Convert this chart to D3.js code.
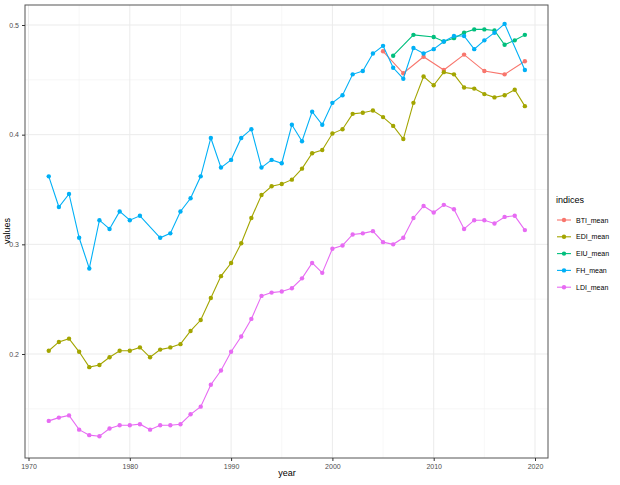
<!DOCTYPE html><html><head><script src="https://cdn.jsdelivr.net/npm/d3@7"></script>
<style>body{margin:0;background:#fff}text{font-family:Arial,"Liberation Sans",sans-serif}</style></head><body><svg id="c" width="620" height="485"></svg><script>
const seriesNames=["BTI_mean","EDI_mean","EIU_mean","FH_mean","LDI_mean"];
const colors=["#F8766D","#A3A500","#00BF7D","#00B0F6","#E76BF3"];
const yrsFull=d3.range(1972,2020);
const BTI_years=[2005,2007,2009,2011,2013,2015,2017,2019];
const BTI_vals=[0.476,0.456,0.471,0.459,0.473,0.458,0.455,0.467];
const EDI_vals=[0.203,0.211,0.214,0.202,0.188,0.190,0.197,0.203,0.203,0.206,0.197,0.204,0.206,0.209,0.221,0.231,0.251,0.271,0.283,0.301,0.324,0.345,0.353,0.355,0.359,0.369,0.383,0.386,0.401,0.405,0.419,0.420,0.422,0.416,0.408,0.396,0.429,0.453,0.445,0.457,0.455,0.443,0.442,0.437,0.434,0.436,0.441,0.426];
const EIU_years=[2006,2008,2010,2011,2012,2013,2014,2015,2016,2017,2018,2019];
const EIU_vals=[0.472,0.491,0.489,0.485,0.488,0.493,0.496,0.496,0.495,0.482,0.486,0.491];
const FH_years=[1972,1973,1974,1975,1976,1977,1978,1979,1980,1981,1983,1984,1985,1986,1987,1988,1989,1990,1991,1992,1993,1994,1995,1996,1997,1998,1999,2000,2001,2002,2003,2004,2005,2006,2007,2008,2009,2010,2011,2012,2013,2014,2015,2016,2017,2019];
const FH_vals=[0.362,0.334,0.346,0.306,0.278,0.322,0.314,0.330,0.322,0.326,0.306,0.310,0.330,0.342,0.362,0.397,0.370,0.377,0.397,0.405,0.370,0.377,0.374,0.409,0.394,0.421,0.409,0.429,0.436,0.455,0.458,0.474,0.481,0.461,0.451,0.479,0.474,0.478,0.485,0.490,0.490,0.478,0.486,0.493,0.501,0.459];
const LDI_vals=[0.139,0.142,0.144,0.131,0.126,0.125,0.132,0.135,0.135,0.136,0.131,0.135,0.135,0.136,0.145,0.152,0.172,0.185,0.202,0.216,0.232,0.253,0.256,0.257,0.260,0.269,0.283,0.274,0.296,0.299,0.309,0.310,0.312,0.302,0.300,0.306,0.324,0.335,0.329,0.336,0.332,0.314,0.322,0.322,0.319,0.325,0.326,0.313];
const xTicks=[1970,1980,1990,2000,2010,2020];
const yTicks=[0.2,0.3,0.4,0.5];
const data=[
 BTI_years.map((y,i)=>[y,BTI_vals[i]]),
 yrsFull.map((y,i)=>[y,EDI_vals[i]]),
 EIU_years.map((y,i)=>[y,EIU_vals[i]]),
 FH_years.map((y,i)=>[y,FH_vals[i]]),
 yrsFull.map((y,i)=>[y,LDI_vals[i]])];
const svg=d3.select("#c");
const L=25,R=548,T=5,B=458;
const x=d3.scaleLinear().domain([1970,2020]).range([28.5,535]);
const y=d3.scaleLinear().domain([0.2,0.5]).range([354,25]);
const g=svg.append("g");
// minor grid
const minorY=[0.15,0.25,0.35,0.45],minorX=[1975,1985,1995,2005,2015];
g.selectAll(".my").data(minorY).join("line").attr("x1",L).attr("x2",R).attr("y1",d=>y(d)).attr("y2",d=>y(d)).attr("stroke","#f2f2f2").attr("stroke-width",0.6);
g.selectAll(".mx").data(minorX).join("line").attr("y1",T).attr("y2",B).attr("x1",d=>x(d)).attr("x2",d=>x(d)).attr("stroke","#f2f2f2").attr("stroke-width",0.6);
g.selectAll(".gy").data(yTicks).join("line").attr("x1",L).attr("x2",R).attr("y1",d=>y(d)).attr("y2",d=>y(d)).attr("stroke","#ebebeb").attr("stroke-width",1);
g.selectAll(".gx").data(xTicks).join("line").attr("y1",T).attr("y2",B).attr("x1",d=>x(d)).attr("x2",d=>x(d)).attr("stroke","#ebebeb").attr("stroke-width",1);
const line=d3.line().x(d=>x(d[0])).y(d=>y(d[1]));
data.forEach((s,i)=>{
 g.append("path").attr("d",line(s)).attr("fill","none").attr("stroke",colors[i]).attr("stroke-width",1.1);
 g.selectAll(null).data(s).join("circle").attr("cx",d=>x(d[0])).attr("cy",d=>y(d[1])).attr("r",2.2).attr("fill",colors[i]);
});
g.append("rect").attr("x",L).attr("y",T).attr("width",R-L).attr("height",B-T).attr("fill","none").attr("stroke","#555").attr("stroke-width",1);
const xa=svg.append("g").attr("transform",`translate(0,${B})`).call(d3.axisBottom(x).tickValues(xTicks).tickFormat(d3.format("d")).tickSize(3));
const ya=svg.append("g").attr("transform",`translate(${L},0)`).call(d3.axisLeft(y).tickValues(yTicks).tickFormat(d3.format(".1f")).tickSize(3));
[xa,ya].forEach(a=>{a.select(".domain").remove();a.selectAll("line").attr("stroke","#333");a.selectAll("text").attr("fill","#4d4d4d").style("font-size","7px");});
svg.append("text").attr("x",287).attr("y",476).attr("text-anchor","middle").style("font-size","9px").text("year");
svg.append("text").attr("transform","translate(10,231) rotate(-90)").attr("text-anchor","middle").style("font-size","9px").text("values");
svg.append("text").attr("x",556).attr("y",203).style("font-size","9px").text("indices");
seriesNames.forEach((n,i)=>{const yy=220+i*16.8;
 svg.append("line").attr("x1",557).attr("x2",571).attr("y1",yy).attr("y2",yy).attr("stroke",colors[i]).attr("stroke-width",1.1);
 svg.append("circle").attr("cx",564).attr("cy",yy).attr("r",2.2).attr("fill",colors[i]);
 svg.append("text").attr("x",576).attr("y",yy+2.5).style("font-size","7px").text(n);});
</script></body></html>
